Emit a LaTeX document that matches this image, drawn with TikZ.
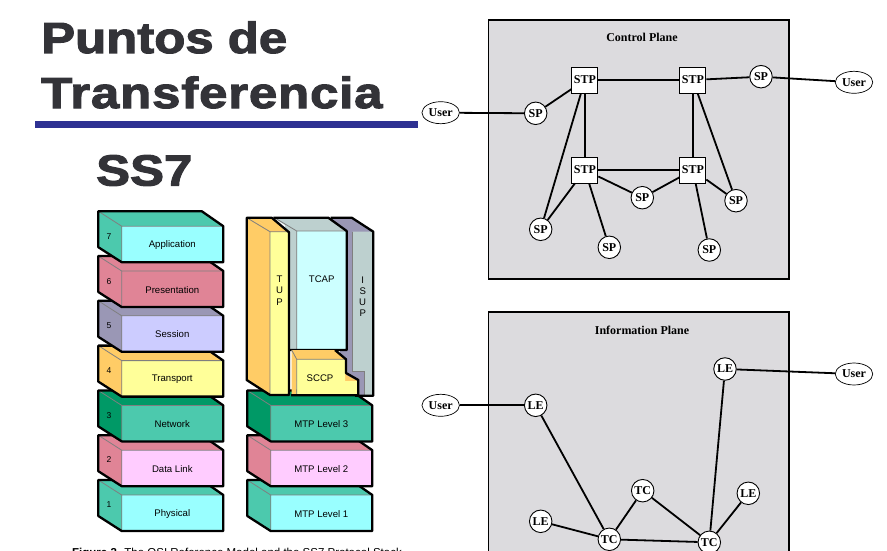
\documentclass[tikz,border=0pt]{standalone}
\usepackage{fontspec}
\setmainfont{Liberation Sans}
\newfontfamily\titlefont[FakeBold=2.6,FakeStretch=1.17]{Liberation Sans Bold}
\newfontfamily\netfont{Liberation Serif}
\usetikzlibrary{positioning,shapes.geometric}
\definecolor{inkc}{HTML}{333338}
\definecolor{barc}{HTML}{2E3192}
\definecolor{planec}{HTML}{DCDBDE}
\definecolor{edgec}{HTML}{7F7F7F}
\definecolor{cyanc}{HTML}{99FFFF}
\definecolor{paleb}{HTML}{CCFFFF}
\definecolor{tealc}{HTML}{4CC9AD}
\definecolor{greenc}{HTML}{009966}
\definecolor{rosec}{HTML}{E08496}
\definecolor{pinkc}{HTML}{FFCCFF}
\definecolor{lilacc}{HTML}{9A97B5}
\definecolor{bluec}{HTML}{CCCCFF}
\definecolor{orangec}{HTML}{FFCC66}
\definecolor{yellowc}{HTML}{FFFF99}
\definecolor{slatec}{HTML}{BDD0CF}
\tikzset{
  titletext/.style={inner sep=0pt,anchor=base west,text=inkc,font=\titlefont},
  planebox/.style={draw=black,fill=planec,line width=1.5pt},
  planetitle/.style={font=\netfont\bfseries\fontsize{12}{12}\selectfont},
  stpnode/.style={draw=black,fill=white,line width=0.9pt,minimum size=26pt,inner sep=0pt,font=\netfont\bfseries\fontsize{12}{12}\selectfont},
  signode/.style={circle,draw=black,fill=white,line width=0.9pt,minimum size=22.5pt,inner sep=0pt,font=\netfont\bfseries\fontsize{12}{12}\selectfont},
  usernode/.style={ellipse,draw=black,fill=white,line width=0.7pt,minimum width=37.5pt,minimum height=22pt,inner sep=0pt,font=\netfont\bfseries\fontsize{12}{12}\selectfont},
  link/.style={line width=1.8pt,black},
  hardedge/.style={draw=black,line width=2.3pt,line join=round},
  softedge/.style={draw=edgec,line width=0.8pt},
  layertext/.style={inner sep=0pt,font=\fontsize{9.6}{10}\selectfont,text=black},
  digittext/.style={inner sep=0pt,font=\fontsize{8.5}{9}\selectfont,text=black}
}
\newcommand{\layerblock}[5]{% left x, front top, side colour, front colour, text
  \fill[#3] (#1,#2-15) -- (#1+103.4,#2-15) -- (#1+125,#2) -- (#1+125,#2+36) -- (#1+23.4,#2+36) -- (#1,#2+21) -- cycle;
  \fill[#4] (#1+23.4,#2) rectangle (#1+125,#2+36);
  \draw[softedge] (#1,#2-15) -- (#1+23.4,#2) -- (#1+125,#2) (#1+23.4,#2) -- (#1+23.4,#2+36);
  \path[hardedge] (#1,#2-15) -- (#1+103.4,#2-15) -- (#1+125,#2) -- (#1+125,#2+36) -- (#1+23.4,#2+36) -- (#1,#2+21) -- cycle;
  \node[layertext] (lay#1x#2) at (#1+74,#2+18.7) {#5};
}
\begin{document}
\begin{tikzpicture}[x=1pt,y=-1pt]
  \clip (0,0) rectangle (887,551);
  % heading
  \node[titletext,font=\titlefont\fontsize{43.5}{44}\selectfont] (headone) at (41,53) {Puntos de};
  \node[titletext,font=\titlefont\fontsize{43.5}{44}\selectfont\addfontfeature{LetterSpace=2}] (headtwo) at (41,108) {Transferencia};
  \fill[barc] (35,120.7) rectangle (418,128);
  \node[titletext,font=\titlefont\fontsize{43.5}{44}\selectfont] (headss) at (96,185.5) {SS7};
  % left stack, lowest first so that each one covers the one below
  \layerblock{98.3}{495}{tealc}{cyanc}{Physical}
  \layerblock{98.3}{450.2}{rosec}{pinkc}{Data Link}
  \layerblock{98.3}{405.4}{greenc}{tealc}{Network}
  \layerblock{98.3}{360.6}{orangec}{yellowc}{Transport}
  \layerblock{98.3}{315.8}{lilacc}{bluec}{Session}
  \layerblock{98.3}{271}{rosec}{rosec}{Presentation}
  \layerblock{98.3}{226.2}{tealc}{cyanc}{Application}
  \foreach \n/\y in {1/505,2/460,3/416,4/371,5/326,6/282,7/237}{\node[digittext] (dig\n) at (109,\y) {\n};}
  % right stack
  \layerblock{247.3}{495}{tealc}{cyanc}{MTP Level 1}
  \layerblock{247.3}{450.2}{rosec}{pinkc}{MTP Level 2}
  \layerblock{247.3}{405.4}{greenc}{tealc}{MTP Level 3}
  % ISUP
  \fill[lilacc] (330.7,217.7) -- (351.7,217.7) -- (373.3,231.7) -- (373.3,395.7) -- (340,395.7) -- (340,350) -- (330.7,231) -- cycle;
  \fill[slatec] (352.7,231.7) -- (373.3,231.7) -- (373.3,395.7) -- (364,395.7) -- (364,371.7) -- (352.7,371.7) -- cycle;
  \draw[softedge] (352.7,231.7) -- (352.7,371.7) -- (364,371.7) -- (364,395.7);
  \path[hardedge] (330.7,217.7) -- (351.7,217.7) -- (373.3,231.7) -- (373.3,395.7) -- (355,395.7);
  % TCAP
  \fill[slatec] (273.3,217.7) -- (328.3,217.7) -- (346.7,231) -- (346.7,350) -- (285,350) -- (285,225) -- cycle;
  \fill[paleb] (296.7,231) rectangle (346.7,350);
  \draw[softedge] (275,218) -- (296.7,231) -- (346.7,231) (296.7,231) -- (296.7,350);
  \path[hardedge] (273.3,217.7) -- (328.3,217.7) -- (346.7,231) -- (346.7,350) -- (290,350);
  \node[layertext] (tcap) at (321.7,279.3) {TCAP};
  % SCCP
  \fill[orangec] (291.7,350) -- (335,350) -- (346,359.3) -- (346,375) -- (358.3,381) -- (296.7,381) -- (296.7,395) -- (291.7,395) -- cycle;
  \fill[yellowc] (296.7,359.3) -- (345,359.3) -- (345,381) -- (358.3,381) -- (358.3,395) -- (296.7,395) -- cycle;
  \draw[softedge] (291.7,350) -- (296.7,359.3) -- (345,359.3) (296.7,359.3) -- (296.7,395);
  \path[hardedge] (335,350) -- (346,359.3) -- (346,373) -- (358.3,380) -- (358.3,395.2) -- (291,395.2);
  \node[layertext] (sccp) at (320,378.3) {SCCP};
  % TUP
  \fill[orangec] (246.7,217.7) -- (271.7,217.7) -- (289,232.3) -- (289,395) -- (270,395) -- (246.7,380) -- cycle;
  \fill[yellowc] (270,231.7) rectangle (289,395);
  \draw[softedge] (246.7,217.7) -- (270,231.7) -- (289,231.7) (270,231.7) -- (270,395);
  \path[hardedge] (246.7,217.7) -- (271.7,217.7) -- (289,232.3) -- (289,395) -- (270,395) -- (246.7,380) -- cycle;
  \foreach \c/\y in {T/279,U/290.3,P/301.7}{\node[layertext] (tup\c) at (279.5,\y) {\c};}
  \foreach \c/\y in {I/280,S/290.7,U/302,P/313.3}{\node[layertext] (isup\c) at (362.7,\y) {\c};}
  % caption
  \node[inner sep=0pt,anchor=base west,font=\fontsize{11.5}{12}\selectfont] (fig) at (72,556) {\textbf{Figure 3.} The OSI Reference Model and the SS7 Protocol Stack};
  % control plane
  \path[planebox] (488.5,20) rectangle (789,279);
  \node[planetitle] (ctitle) at (642,37.5) {Control Plane};
  \node[stpnode] (stpa) at (584.9,80) {STP};
  \node[stpnode] (stpb) at (692.9,80) {STP};
  \node[stpnode] (stpc) at (584.9,170) {STP};
  \node[stpnode] (stpd) at (692.9,170) {STP};
  \node[signode] (spa) at (535.7,113.3) {SP};
  \node[signode] (spb) at (761,76.7) {SP};
  \node[signode] (spc) at (642.3,197.7) {SP};
  \node[signode] (spd) at (736,200.7) {SP};
  \node[signode] (spe) at (540.7,229.3) {SP};
  \node[signode] (spf) at (609.3,247.3) {SP};
  \node[signode] (spg) at (709.3,250) {SP};
  \node[usernode] (usera) at (440.7,112.7) {User};
  \node[usernode] (userb) at (854,82.3) {User};
  \foreach \a/\b in {usera/spa,spa/stpa,stpa/stpb,stpb/spb,spb/userb,stpa/stpc,stpb/stpd,stpc/stpd,stpa/spe,stpc/spe,stpc/spf,stpc/spc,stpd/spc,stpd/spd,stpb/spd,stpd/spg}{\draw[link] (\a) -- (\b);}
  % information plane
  \path[planebox] (488.5,312) rectangle (789,570);
  \node[planetitle] (ititle) at (642,330) {Information Plane};
  \node[signode] (lea) at (535.7,405.3) {LE};
  \node[signode] (leb) at (725,369) {LE};
  \node[signode] (lec) at (748.3,493.3) {LE};
  \node[signode] (led) at (540.7,521.3) {LE};
  \node[signode] (tca) at (642.7,490.7) {TC};
  \node[signode] (tcb) at (609.3,539.3) {TC};
  \node[signode] (tcc) at (709.3,542.3) {TC};
  \node[usernode] (userc) at (440.7,405.3) {User};
  \node[usernode] (userd) at (854,374) {User};
  \foreach \a/\b in {userc/lea,lea/tcb,led/tcb,tcb/tca,tca/tcc,tcb/tcc,tcc/leb,tcc/lec,leb/userd}{\draw[link] (\a) -- (\b);}
\end{tikzpicture}
\end{document}
